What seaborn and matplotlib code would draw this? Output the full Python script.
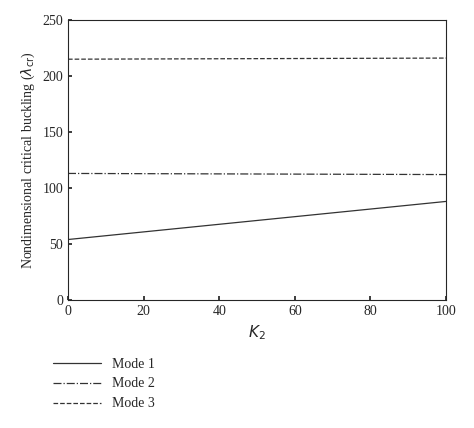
import matplotlib
matplotlib.use("Agg")
import matplotlib.pyplot as plt
import seaborn as sns
import pandas as pd

sns.set_theme(style="ticks")
plt.rcParams['font.family'] = ['Liberation Serif', 'DejaVu Serif']

k2 = [0, 100]
mode1 = [54, 88]
mode2 = [113, 112]
mode3 = [215, 216]
labels = ["Mode 1", "Mode 2", "Mode 3"]
styles = ["-", "-.", "--"]

df = pd.DataFrame({"K2": k2 * 3, "val": mode1 + mode2 + mode3,
                   "mode": [l for l in labels for _ in k2]})

fig = plt.figure(figsize=(4.74, 4.28), dpi=100)
ax = fig.add_axes([68/474, 128/428, 378/474, 280/428])
lines = []
for lab, st in zip(labels, styles):
    d = df[df["mode"] == lab]
    sns.lineplot(data=d, x="K2", y="val", ax=ax, color="#333333", lw=0.9,
                 linestyle=st, legend=False)
    lines.append(ax.get_lines()[-1])
ax.set_xlim(0, 100)
ax.set_ylim(0, 250)
ax.set_xticks([0, 20, 40, 60, 80, 100])
ax.set_yticks([0, 50, 100, 150, 200, 250])
ax.tick_params(labelsize=10, direction="in", length=3)
for s in ax.spines.values():
    s.set_linewidth(0.8)
ax.set_xlabel(r"$K_2$", fontsize=11)
ax.set_ylabel(r"Nondimensional critical buckling ($\lambda_{\mathrm{cr}}$)", fontsize=10)
fig.legend(lines, labels, loc="upper left", bbox_to_anchor=(40/474, 1 - 345/428),
           frameon=False, fontsize=10, handlelength=3.5, labelspacing=0.5)
fig.savefig("out.png", dpi=100)
